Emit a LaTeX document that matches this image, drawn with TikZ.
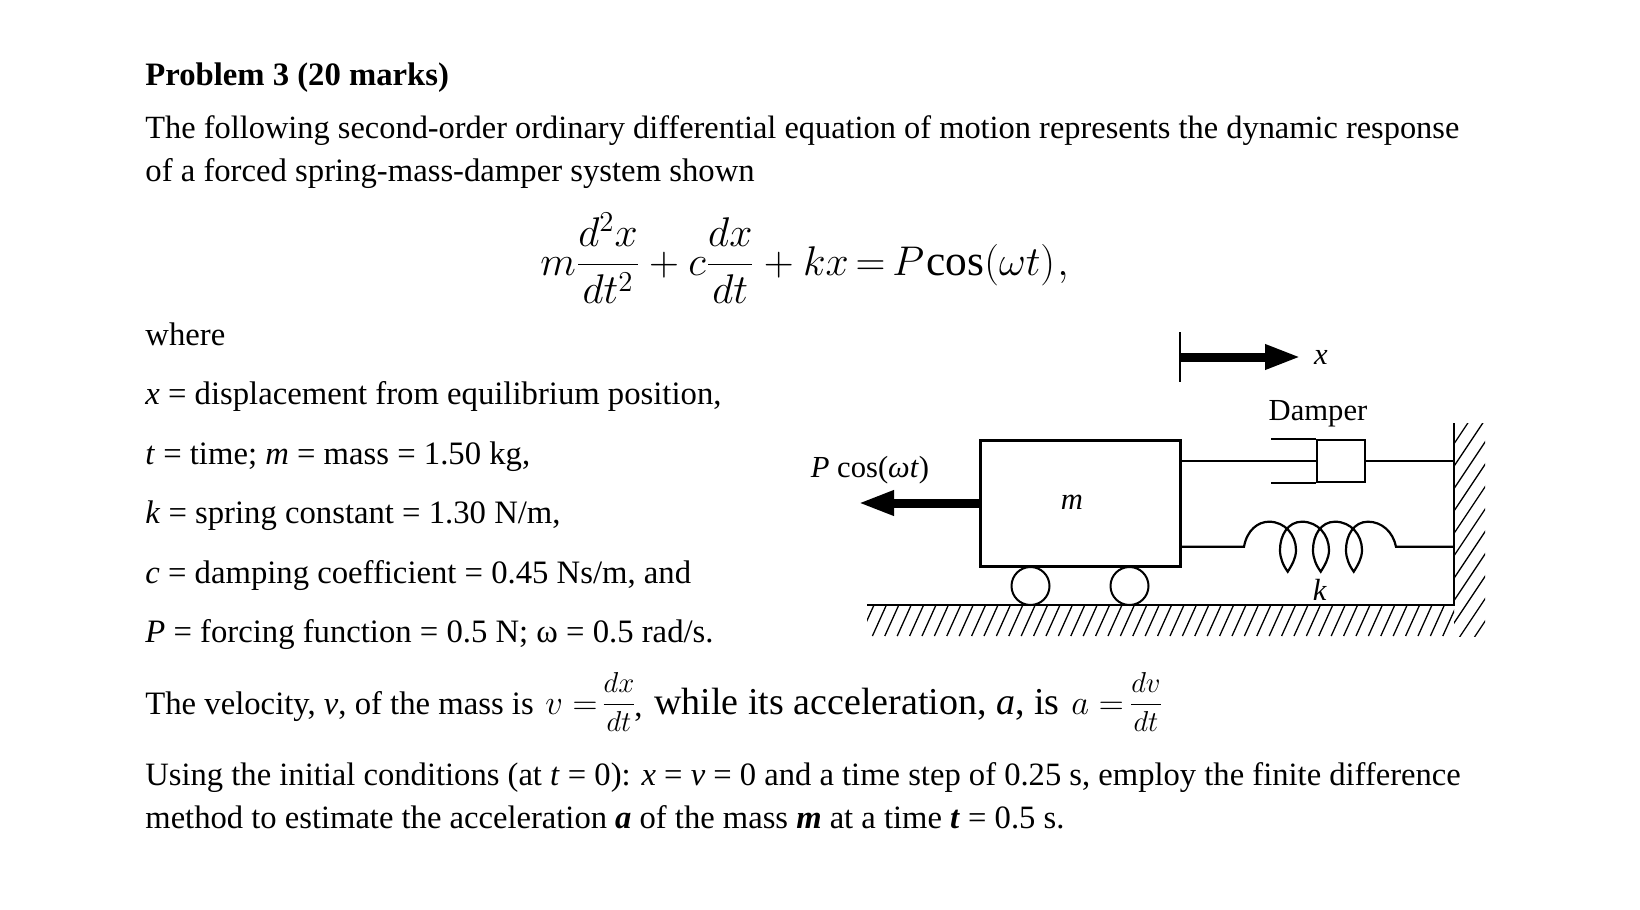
\documentclass[tikz,border=0pt]{standalone}
\usepackage{fontspec}
\setmainfont{Liberation Serif}
\usetikzlibrary{arrows.meta}
\tikzset{
    bodytext/.style={anchor=base west, inner sep=0pt, font=\fontsize{16.35}{20}\selectfont},
    bigtext/.style={anchor=base west, inner sep=0pt, font=\fontsize{19}{23}\selectfont},
    mathtext/.style={anchor=base west, inner sep=0pt, font=\fontsize{21.7}{26}\selectfont},
    smallfrac/.style={anchor=base, inner sep=0pt, font=\fontsize{14}{17}\selectfont},
    figlabel/.style={inner sep=0pt, font=\fontsize{15.3}{18}\selectfont},
    bigarrow/.style={line width=4.5pt, -{Triangle[length=18pt,width=11.5pt]}},
    hatchline/.style={line width=0.65pt}
}
\begin{document}
\begin{tikzpicture}[x=0.5pt, y=-0.5pt]
    \useasboundingbox (0,0) rectangle (1640,910);

    \node[bodytext, font=\fontsize{16.35}{20}\selectfont\bfseries] (title) at (145,85) {Problem 3 (20 marks)};
    \node[bodytext, font=\fontsize{16.2}{20}\selectfont] (introa) at (145,138) {The following second-order ordinary differential equation of motion represents the dynamic response};
    \node[bodytext] (introb) at (145,181) {of a forced spring-mass-damper system shown};
    \node[mathtext] (motion) at (540,275) {$\displaystyle\thickmuskip=3mu m\frac{d^2x}{dt^2}+c\frac{dx}{dt}+kx=P\mkern1mu\mbox{cos}(\omega t)\mkern1mu,$};
    \node[bodytext] (where) at (145,345) {where};
    \node[bodytext] (defx) at (145,404) {\textit{x} = displacement from equilibrium position,};
    \node[bodytext] (deft) at (145,464) {\textit{t} = time; \textit{m} = mass = 1.50 kg,};
    \node[bodytext] (defk) at (145,523) {\textit{k} = spring constant = 1.30 N/m,};
    \node[bodytext] (defc) at (145,583) {\textit{c} = damping coefficient = 0.45 Ns/m, and};
    \node[bodytext] (defp) at (145,642) {\textit{P} = forcing function = 0.5 N; ω = 0.5 rad/s.};

    \node[bodytext] (vela) at (145,714) {The velocity, \textit{v}, of the mass is};
    \node[bodytext] (veleq) at (545,714) {$v=$};
    \node[smallfrac] (velfrac) at (619,712) {$\displaystyle\frac{dx}{dt}$};
    \node[bodytext] (velcomma) at (634,716) {,};
    \node[bigtext] (velb) at (654,714) {while its acceleration, \textit{a}, is};
    \node[bodytext] (acceq) at (1071,714) {$a=$};
    \node[smallfrac] (accfrac) at (1146,712) {$\displaystyle\frac{dv}{dt}$};

    \node[bodytext, font=\fontsize{16.3}{20}\selectfont] (usea) at (145,785) {Using the initial conditions (at \textit{t} = 0): \textit{x} = \textit{v} = 0 and a time step of 0.25 s, employ the finite difference};
    \node[bodytext, font=\fontsize{16.3}{20}\selectfont] (useb) at (145,828) {method to estimate the acceleration \textbf{\textit{a}} of the mass \textbf{\textit{m}} at a time \textbf{\textit{t}} = 0.5 s.};

    \node[draw, line width=1.5pt, minimum width=100pt, minimum height=63pt, inner sep=0pt] (mass) at (1080,503) {};
    \node[figlabel] (mlabel) at (1072,502) {\textit{m}};
    \node[draw, circle, line width=1pt, minimum size=19pt, inner sep=0pt] (rollera) at (1030.5,586) {};
    \node[draw, circle, line width=1pt, minimum size=19pt, inner sep=0pt] (rollerb) at (1129.5,586) {};

    \begin{scope}
        \clip (867,605) rectangle (1454,636);
        \foreach \hx in {860,872.4,...,1480}
            \draw[hatchline] (\hx,636) -- (\hx+14,605);
    \end{scope}
    \begin{scope}
        \clip (1454,423) rectangle (1485,636);
        \foreach \hy in {420,442.4,...,740}
            \draw[hatchline] (1440,\hy) -- (1490,\hy-75);
    \end{scope}
    \coordinate (groundend) at (867,605);
    \coordinate (corner) at (1454,605);
    \coordinate (walltop) at (1454,423);
    \draw[line width=1.4pt] (groundend) -- (corner) -- (walltop);

    \node[draw, line width=1.1pt, minimum width=24pt, minimum height=21pt, inner sep=0pt] (piston) at (1341,461) {};
    \coordinate (cylend) at (1271,461);
    \draw[line width=1.3pt] (piston.north west -| cylend) -- (piston.north west);
    \draw[line width=1.3pt] (piston.south west -| cylend) -- (piston.south west);
    \draw[line width=1.1pt] (piston.west -| mass.east) -- (piston.west);
    \draw[line width=1.1pt] (piston.east) -- (piston.east -| corner);
    \node[figlabel] (dlabel) at (1318,414) {Damper};

    \coordinate (springl) at (1244,546.7);
    \coordinate (springr) at (1396,546.7);
    \draw[line width=1.1pt] (springl -| mass.east) -- (springl) .. controls (1247,530) and (1258,521.7) .. (1269,521.7);
    \foreach \sx in {1269,1302,1335}
        \draw[line width=1.1pt] (\sx,521.7) .. controls (\sx+16,521.7) and (\sx+27,535) .. (\sx+27,550)
            .. controls (\sx+27,558) and (\sx+23,565) .. (\sx+18.7,571.7)
            .. controls (\sx+14,565) and (\sx+11,558) .. (\sx+11,550)
            .. controls (\sx+11,535) and (\sx+19,521.7) .. (\sx+33,521.7);
    \draw[line width=1.1pt] (1368,521.7) .. controls (1382,521.7) and (1393,532) .. (springr) -- (springr -| corner);
    \node[figlabel] (klabel) at (1320,590) {\textit{k}};

    \coordinate (xtail) at (1180,357);
    \coordinate (xtip) at (1301,357);
    \coordinate (xbartop) at (1180,332);
    \coordinate (xbarbot) at (1180,382);
    \draw[line width=1.1pt] (xbartop) -- (xbarbot);
    \draw[bigarrow] (xtail) -- (xtip);
    \node[figlabel] (xlabel) at (1321,357) {\textit{x}};

    \coordinate (forcetip) at (858,503);
    \draw[bigarrow] (mass.west) -- (forcetip);
    \node[figlabel] (plabel) at (870,470) {\textit{P} cos(\textit{ωt})};
\end{tikzpicture}
\end{document}
